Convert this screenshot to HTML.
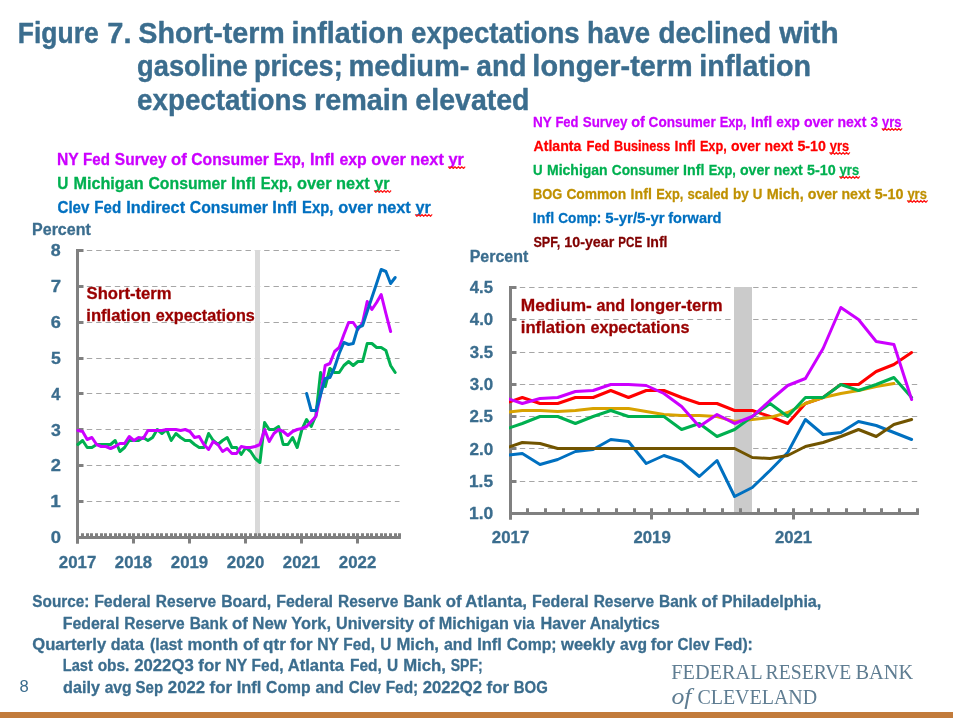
<!DOCTYPE html>
<html lang="en">
<head>
<meta charset="utf-8">
<title>Figure 7. Short-term inflation expectations</title>
<style>
html,body{margin:0;padding:0;background:#fff;}
body{width:953px;height:718px;overflow:hidden;}
svg{display:block;}
</style>
</head>
<body>
<svg width="953" height="718" viewBox="0 0 953 718">
<rect width="953" height="718" fill="#ffffff"/>
<g id="title">
<text y="42.6" font-family="'Liberation Sans', sans-serif" font-size="28.6" font-weight="bold" fill="#3b6d8e" stroke="#3b6d8e" stroke-width="0.4" stroke-linejoin="round"><tspan x="17.81" textLength="80.87" lengthAdjust="spacingAndGlyphs">Figure</tspan> <tspan x="107.26" textLength="24.24" lengthAdjust="spacingAndGlyphs">7.</tspan> <tspan x="138.34" textLength="146.52" lengthAdjust="spacingAndGlyphs">Short-term</tspan> <tspan x="291.58" textLength="111.97" lengthAdjust="spacingAndGlyphs">inflation</tspan> <tspan x="411.10" textLength="168.53" lengthAdjust="spacingAndGlyphs">expectations</tspan> <tspan x="587.07" textLength="62.98" lengthAdjust="spacingAndGlyphs">have</tspan> <tspan x="658.39" textLength="112.97" lengthAdjust="spacingAndGlyphs">declined</tspan> <tspan x="779.17" textLength="59.57" lengthAdjust="spacingAndGlyphs">with</tspan></text>
<text y="76.1" font-family="'Liberation Sans', sans-serif" font-size="28.6" font-weight="bold" fill="#3b6d8e" stroke="#3b6d8e" stroke-width="0.4" stroke-linejoin="round"><tspan x="137.11" textLength="110.63" lengthAdjust="spacingAndGlyphs">gasoline</tspan> <tspan x="254.04" textLength="88.61" lengthAdjust="spacingAndGlyphs">prices;</tspan> <tspan x="348.41" textLength="121.04" lengthAdjust="spacingAndGlyphs">medium-</tspan> <tspan x="476.35" textLength="50.09" lengthAdjust="spacingAndGlyphs">and</tspan> <tspan x="532.38" textLength="160.29" lengthAdjust="spacingAndGlyphs">longer-term</tspan> <tspan x="699.39" textLength="111.66" lengthAdjust="spacingAndGlyphs">inflation</tspan></text>
<text y="109.5" font-family="'Liberation Sans', sans-serif" font-size="28.6" font-weight="bold" fill="#3b6d8e" stroke="#3b6d8e" stroke-width="0.4" stroke-linejoin="round"><tspan x="137.09" textLength="169.85" lengthAdjust="spacingAndGlyphs">expectations</tspan> <tspan x="313.93" textLength="94.46" lengthAdjust="spacingAndGlyphs">remain</tspan> <tspan x="415.36" textLength="114.20" lengthAdjust="spacingAndGlyphs">elevated</tspan></text>
</g>
<g id="legend-left">
<text y="164.7" font-family="'Liberation Sans', sans-serif" font-size="16.8" font-weight="bold" fill="#cc00ff" stroke="#cc00ff" stroke-width="0.3" stroke-linejoin="round"><tspan x="57.01" textLength="21.46" lengthAdjust="spacingAndGlyphs">NY</tspan> <tspan x="83.07" textLength="26.80" lengthAdjust="spacingAndGlyphs">Fed</tspan> <tspan x="114.86" textLength="51.68" lengthAdjust="spacingAndGlyphs">Survey</tspan> <tspan x="171.11" textLength="15.81" lengthAdjust="spacingAndGlyphs">of</tspan> <tspan x="191.17" textLength="77.84" lengthAdjust="spacingAndGlyphs">Consumer</tspan> <tspan x="273.68" textLength="31.29" lengthAdjust="spacingAndGlyphs">Exp,</tspan> <tspan x="310.05" textLength="24.58" lengthAdjust="spacingAndGlyphs">Infl</tspan> <tspan x="339.39" textLength="27.28" lengthAdjust="spacingAndGlyphs">exp</tspan> <tspan x="371.34" textLength="34.50" lengthAdjust="spacingAndGlyphs">over</tspan> <tspan x="410.32" textLength="33.53" lengthAdjust="spacingAndGlyphs">next</tspan> <tspan x="448.46" textLength="15.34" lengthAdjust="spacingAndGlyphs">yr</tspan></text>
<rect x="448.2" y="168.8" width="15.9" height="4" fill="#ffffff"/>
<path d="M448.2 166.6 L449.9 168.5 L451.6 166.6 L453.3 168.5 L455.0 166.6 L456.7 168.5 L458.4 166.6 L460.1 168.5 L461.8 166.6 L463.5 168.5 L465.2 166.6" fill="none" stroke="#ff1a1a" stroke-width="1.15" stroke-linejoin="round"/>
<text y="188.6" font-family="'Liberation Sans', sans-serif" font-size="16.8" font-weight="bold" fill="#00b050" stroke="#00b050" stroke-width="0.3" stroke-linejoin="round"><tspan x="57.13" textLength="11.11" lengthAdjust="spacingAndGlyphs">U</tspan> <tspan x="73.38" textLength="70.27" lengthAdjust="spacingAndGlyphs">Michigan</tspan> <tspan x="148.47" textLength="78.03" lengthAdjust="spacingAndGlyphs">Consumer</tspan> <tspan x="231.08" textLength="24.64" lengthAdjust="spacingAndGlyphs">Infl</tspan> <tspan x="260.76" textLength="31.37" lengthAdjust="spacingAndGlyphs">Exp,</tspan> <tspan x="297.02" textLength="34.58" lengthAdjust="spacingAndGlyphs">over</tspan> <tspan x="336.09" textLength="33.61" lengthAdjust="spacingAndGlyphs">next</tspan> <tspan x="374.32" textLength="15.38" lengthAdjust="spacingAndGlyphs">yr</tspan></text>
<rect x="374.1" y="192.7" width="15.9" height="4" fill="#ffffff"/>
<path d="M374.1 190.5 L375.8 192.4 L377.5 190.5 L379.2 192.4 L380.9 190.5 L382.6 192.4 L384.3 190.5 L386.0 192.4 L387.7 190.5 L389.4 192.4 L391.1 190.5" fill="none" stroke="#ff1a1a" stroke-width="1.15" stroke-linejoin="round"/>
<text y="212.5" font-family="'Liberation Sans', sans-serif" font-size="16.8" font-weight="bold" fill="#0070c0" stroke="#0070c0" stroke-width="0.3" stroke-linejoin="round"><tspan x="57.44" textLength="32.04" lengthAdjust="spacingAndGlyphs">Clev</tspan> <tspan x="94.37" textLength="26.83" lengthAdjust="spacingAndGlyphs">Fed</tspan> <tspan x="126.29" textLength="58.79" lengthAdjust="spacingAndGlyphs">Indirect</tspan> <tspan x="189.87" textLength="77.93" lengthAdjust="spacingAndGlyphs">Consumer</tspan> <tspan x="272.37" textLength="24.61" lengthAdjust="spacingAndGlyphs">Infl</tspan> <tspan x="302.02" textLength="31.33" lengthAdjust="spacingAndGlyphs">Exp,</tspan> <tspan x="338.23" textLength="34.54" lengthAdjust="spacingAndGlyphs">over</tspan> <tspan x="377.26" textLength="33.57" lengthAdjust="spacingAndGlyphs">next</tspan> <tspan x="415.44" textLength="15.36" lengthAdjust="spacingAndGlyphs">yr</tspan></text>
<rect x="415.2" y="216.6" width="15.9" height="4" fill="#ffffff"/>
<path d="M415.2 214.4 L416.9 216.3 L418.6 214.4 L420.3 216.3 L422.0 214.4 L423.7 216.3 L425.4 214.4 L427.1 216.3 L428.8 214.4 L430.5 216.3 L432.2 214.4" fill="none" stroke="#ff1a1a" stroke-width="1.15" stroke-linejoin="round"/>
</g>
<g id="legend-right">
<text y="126.7" font-family="'Liberation Sans', sans-serif" font-size="14.4" font-weight="bold" fill="#cc00ff" stroke="#cc00ff" stroke-width="0.26" stroke-linejoin="round"><tspan x="532.93" textLength="18.50" lengthAdjust="spacingAndGlyphs">NY</tspan> <tspan x="555.40" textLength="23.10" lengthAdjust="spacingAndGlyphs">Fed</tspan> <tspan x="582.80" textLength="44.55" lengthAdjust="spacingAndGlyphs">Survey</tspan> <tspan x="631.29" textLength="13.63" lengthAdjust="spacingAndGlyphs">of</tspan> <tspan x="648.58" textLength="67.10" lengthAdjust="spacingAndGlyphs">Consumer</tspan> <tspan x="719.70" textLength="26.97" lengthAdjust="spacingAndGlyphs">Exp,</tspan> <tspan x="751.05" textLength="21.18" lengthAdjust="spacingAndGlyphs">Infl</tspan> <tspan x="776.34" textLength="23.51" lengthAdjust="spacingAndGlyphs">exp</tspan> <tspan x="803.88" textLength="29.73" lengthAdjust="spacingAndGlyphs">over</tspan> <tspan x="837.48" textLength="28.90" lengthAdjust="spacingAndGlyphs">next</tspan> <tspan x="870.55" textLength="7.51" lengthAdjust="spacingAndGlyphs">3</tspan> <tspan x="882.07" textLength="19.43" lengthAdjust="spacingAndGlyphs">yrs</tspan></text>
<rect x="881.8" y="130.6" width="19.7" height="4" fill="#ffffff"/>
<path d="M881.8 128.4 L883.5 130.3 L885.2 128.4 L886.9 130.3 L888.6 128.4 L890.3 130.3 L892.0 128.4 L893.7 130.3 L895.4 128.4 L897.1 130.3 L898.8 128.4 L900.5 130.3 L902.2 128.4" fill="none" stroke="#ff1a1a" stroke-width="1.15" stroke-linejoin="round"/>
<text y="150.7" font-family="'Liberation Sans', sans-serif" font-size="14.4" font-weight="bold" fill="#ff0000" stroke="#ff0000" stroke-width="0.26" stroke-linejoin="round"><tspan x="533.48" textLength="47.90" lengthAdjust="spacingAndGlyphs">Atlanta</tspan> <tspan x="586.58" textLength="22.99" lengthAdjust="spacingAndGlyphs">Fed</tspan> <tspan x="614.03" textLength="56.40" lengthAdjust="spacingAndGlyphs">Business</tspan> <tspan x="674.49" textLength="21.09" lengthAdjust="spacingAndGlyphs">Infl</tspan> <tspan x="699.89" textLength="26.85" lengthAdjust="spacingAndGlyphs">Exp,</tspan> <tspan x="730.93" textLength="29.60" lengthAdjust="spacingAndGlyphs">over</tspan> <tspan x="764.38" textLength="28.77" lengthAdjust="spacingAndGlyphs">next</tspan> <tspan x="797.42" textLength="28.46" lengthAdjust="spacingAndGlyphs">5-10</tspan> <tspan x="829.76" textLength="19.34" lengthAdjust="spacingAndGlyphs">yrs</tspan></text>
<rect x="829.5" y="154.6" width="19.6" height="4" fill="#ffffff"/>
<path d="M829.5 152.4 L831.2 154.3 L832.9 152.4 L834.6 154.3 L836.3 152.4 L838.0 154.3 L839.7 152.4 L841.4 154.3 L843.1 152.4 L844.8 154.3 L846.5 152.4 L848.2 154.3 L849.9 152.4" fill="none" stroke="#ff1a1a" stroke-width="1.15" stroke-linejoin="round"/>
<text y="174.7" font-family="'Liberation Sans', sans-serif" font-size="14.4" font-weight="bold" fill="#00b050" stroke="#00b050" stroke-width="0.26" stroke-linejoin="round"><tspan x="533.03" textLength="9.58" lengthAdjust="spacingAndGlyphs">U</tspan> <tspan x="547.06" textLength="60.62" lengthAdjust="spacingAndGlyphs">Michigan</tspan> <tspan x="611.84" textLength="67.32" lengthAdjust="spacingAndGlyphs">Consumer</tspan> <tspan x="683.11" textLength="21.25" lengthAdjust="spacingAndGlyphs">Infl</tspan> <tspan x="708.72" textLength="27.06" lengthAdjust="spacingAndGlyphs">Exp,</tspan> <tspan x="740.00" textLength="29.83" lengthAdjust="spacingAndGlyphs">over</tspan> <tspan x="773.71" textLength="29.00" lengthAdjust="spacingAndGlyphs">next</tspan> <tspan x="807.01" textLength="28.69" lengthAdjust="spacingAndGlyphs">5-10</tspan> <tspan x="839.61" textLength="19.50" lengthAdjust="spacingAndGlyphs">yrs</tspan></text>
<rect x="839.4" y="178.6" width="19.7" height="4" fill="#ffffff"/>
<path d="M839.4 176.4 L841.1 178.3 L842.8 176.4 L844.5 178.3 L846.2 176.4 L847.9 178.3 L849.6 176.4 L851.3 178.3 L853.0 176.4 L854.7 178.3 L856.4 176.4 L858.1 178.3 L859.8 176.4" fill="none" stroke="#ff1a1a" stroke-width="1.15" stroke-linejoin="round"/>
<text y="198.7" font-family="'Liberation Sans', sans-serif" font-size="14.4" font-weight="bold" fill="#bf9000" stroke="#bf9000" stroke-width="0.26" stroke-linejoin="round"><tspan x="532.96" textLength="29.30" lengthAdjust="spacingAndGlyphs">BOG</tspan> <tspan x="566.39" textLength="59.87" lengthAdjust="spacingAndGlyphs">Common</tspan> <tspan x="630.60" textLength="21.26" lengthAdjust="spacingAndGlyphs">Infl</tspan> <tspan x="656.22" textLength="27.07" lengthAdjust="spacingAndGlyphs">Exp,</tspan> <tspan x="687.46" textLength="41.11" lengthAdjust="spacingAndGlyphs">scaled</tspan> <tspan x="732.95" textLength="15.72" lengthAdjust="spacingAndGlyphs">by</tspan> <tspan x="752.87" textLength="9.59" lengthAdjust="spacingAndGlyphs">U</tspan> <tspan x="766.87" textLength="36.78" lengthAdjust="spacingAndGlyphs">Mich,</tspan> <tspan x="807.75" textLength="29.85" lengthAdjust="spacingAndGlyphs">over</tspan> <tspan x="841.48" textLength="29.01" lengthAdjust="spacingAndGlyphs">next</tspan> <tspan x="874.79" textLength="28.70" lengthAdjust="spacingAndGlyphs">5-10</tspan> <tspan x="907.40" textLength="19.51" lengthAdjust="spacingAndGlyphs">yrs</tspan></text>
<rect x="907.2" y="202.6" width="19.7" height="4" fill="#ffffff"/>
<path d="M907.2 200.4 L908.9 202.3 L910.6 200.4 L912.3 202.3 L914.0 200.4 L915.7 202.3 L917.4 200.4 L919.1 202.3 L920.8 200.4 L922.5 202.3 L924.2 200.4 L925.9 202.3 L927.6 200.4" fill="none" stroke="#ff1a1a" stroke-width="1.15" stroke-linejoin="round"/>
<text y="222.7" font-family="'Liberation Sans', sans-serif" font-size="14.4" font-weight="bold" fill="#0070c0" stroke="#0070c0" stroke-width="0.26" stroke-linejoin="round"><tspan x="532.87" textLength="21.29" lengthAdjust="spacingAndGlyphs">Infl</tspan> <tspan x="558.29" textLength="43.07" lengthAdjust="spacingAndGlyphs">Comp:</tspan> <tspan x="605.33" textLength="59.32" lengthAdjust="spacingAndGlyphs">5-yr/5-yr</tspan> <tspan x="668.23" textLength="53.28" lengthAdjust="spacingAndGlyphs">forward</tspan></text>
<text y="246.7" font-family="'Liberation Sans', sans-serif" font-size="14.4" font-weight="bold" fill="#800000" stroke="#800000" stroke-width="0.26" stroke-linejoin="round"><tspan x="533.45" textLength="26.70" lengthAdjust="spacingAndGlyphs">SPF,</tspan> <tspan x="564.34" textLength="49.94" lengthAdjust="spacingAndGlyphs">10-year</tspan> <tspan x="618.36" textLength="23.79" lengthAdjust="spacingAndGlyphs">PCE</tspan> <tspan x="646.45" textLength="21.10" lengthAdjust="spacingAndGlyphs">Infl</tspan></text>
</g>
<g id="chart-left">
<path d="M77.5 501.5H399.5M77.5 465.5H399.5M77.5 429.5H399.5M77.5 393.5H399.5M77.5 358.5H399.5M77.5 322.5H399.5M77.5 286.5H399.5M77.5 250.5H399.5" stroke="#a6a6a6" stroke-width="1" stroke-dasharray="5.4 3.933" fill="none"/>
<rect x="255.0" y="250.0" width="5.0" height="286.0" fill="#d9d9d9"/>
<path d="M77.5 501.5h6.0M77.5 465.5h6.0M77.5 429.5h6.0M77.5 393.5h6.0M77.5 358.5h6.0M77.5 322.5h6.0M77.5 286.5h6.0M77.5 250.5h6.0" stroke="#808080" stroke-width="3" fill="none"/>
<path d="M82.5 537.5v-4.3M87.5 537.5v-4.3M91.5 537.5v-4.3M96.5 537.5v-4.3M101.5 537.5v-4.3M105.5 537.5v-4.3M110.5 537.5v-4.3M115.5 537.5v-4.3M119.5 537.5v-4.3M124.5 537.5v-4.3M129.5 537.5v-4.3M133.5 537.5v-4.3M138.5 537.5v-4.3M143.5 537.5v-4.3M147.5 537.5v-4.3M152.5 537.5v-4.3M157.5 537.5v-4.3M161.5 537.5v-4.3M166.5 537.5v-4.3M171.5 537.5v-4.3M175.5 537.5v-4.3M180.5 537.5v-4.3M185.5 537.5v-4.3M189.5 537.5v-4.3M194.5 537.5v-4.3M199.5 537.5v-4.3M203.5 537.5v-4.3M208.5 537.5v-4.3M213.5 537.5v-4.3M217.5 537.5v-4.3M222.5 537.5v-4.3M227.5 537.5v-4.3M231.5 537.5v-4.3M236.5 537.5v-4.3M241.5 537.5v-4.3M245.5 537.5v-4.3M250.5 537.5v-4.3M255.5 537.5v-4.3M259.5 537.5v-4.3M264.5 537.5v-4.3M269.5 537.5v-4.3M273.5 537.5v-4.3M278.5 537.5v-4.3M283.5 537.5v-4.3M287.5 537.5v-4.3M292.5 537.5v-4.3M297.5 537.5v-4.3M301.5 537.5v-4.3M306.5 537.5v-4.3M311.5 537.5v-4.3M315.5 537.5v-4.3M320.5 537.5v-4.3M325.5 537.5v-4.3M329.5 537.5v-4.3M334.5 537.5v-4.3M339.5 537.5v-4.3M343.5 537.5v-4.3M348.5 537.5v-4.3M353.5 537.5v-4.3M357.5 537.5v-4.3M362.5 537.5v-4.3M367.5 537.5v-4.3M371.5 537.5v-4.3M376.5 537.5v-4.3M381.5 537.5v-4.3M385.5 537.5v-4.3M390.5 537.5v-4.3M395.5 537.5v-4.3M399.5 537.5v-4.3" stroke="#808080" stroke-width="3" fill="none"/>
<path d="M77.5 249.0V543.5M76.0 537.5H400.9" stroke="#808080" stroke-width="3" fill="none"/>
<path d="M77.5 537.5v6M133.5 537.5v6M189.5 537.5v6M245.5 537.5v6M301.5 537.5v6M357.5 537.5v6" stroke="#808080" stroke-width="3" fill="none"/>
<text y="543.1" font-family="'Liberation Sans', sans-serif" font-size="17.0" font-weight="bold" fill="#3b6d8e" stroke="#3b6d8e" stroke-width="0.31" stroke-linejoin="round"><tspan x="50.71" textLength="10.29" lengthAdjust="spacingAndGlyphs">0</tspan></text>
<text y="507.2" font-family="'Liberation Sans', sans-serif" font-size="17.0" font-weight="bold" fill="#3b6d8e" stroke="#3b6d8e" stroke-width="0.31" stroke-linejoin="round"><tspan x="50.27" textLength="10.51" lengthAdjust="spacingAndGlyphs">1</tspan></text>
<text y="471.4" font-family="'Liberation Sans', sans-serif" font-size="17.0" font-weight="bold" fill="#3b6d8e" stroke="#3b6d8e" stroke-width="0.31" stroke-linejoin="round"><tspan x="50.81" textLength="10.18" lengthAdjust="spacingAndGlyphs">2</tspan></text>
<text y="435.5" font-family="'Liberation Sans', sans-serif" font-size="17.0" font-weight="bold" fill="#3b6d8e" stroke="#3b6d8e" stroke-width="0.31" stroke-linejoin="round"><tspan x="51.06" textLength="9.83" lengthAdjust="spacingAndGlyphs">3</tspan></text>
<text y="399.6" font-family="'Liberation Sans', sans-serif" font-size="17.0" font-weight="bold" fill="#3b6d8e" stroke="#3b6d8e" stroke-width="0.31" stroke-linejoin="round"><tspan x="51.21" textLength="9.14" lengthAdjust="spacingAndGlyphs">4</tspan></text>
<text y="363.7" font-family="'Liberation Sans', sans-serif" font-size="17.0" font-weight="bold" fill="#3b6d8e" stroke="#3b6d8e" stroke-width="0.31" stroke-linejoin="round"><tspan x="50.92" textLength="9.83" lengthAdjust="spacingAndGlyphs">5</tspan></text>
<text y="327.9" font-family="'Liberation Sans', sans-serif" font-size="17.0" font-weight="bold" fill="#3b6d8e" stroke="#3b6d8e" stroke-width="0.31" stroke-linejoin="round"><tspan x="50.77" textLength="10.13" lengthAdjust="spacingAndGlyphs">6</tspan></text>
<text y="292.0" font-family="'Liberation Sans', sans-serif" font-size="17.0" font-weight="bold" fill="#3b6d8e" stroke="#3b6d8e" stroke-width="0.31" stroke-linejoin="round"><tspan x="50.66" textLength="10.40" lengthAdjust="spacingAndGlyphs">7</tspan></text>
<text y="256.1" font-family="'Liberation Sans', sans-serif" font-size="17.0" font-weight="bold" fill="#3b6d8e" stroke="#3b6d8e" stroke-width="0.31" stroke-linejoin="round"><tspan x="50.87" textLength="9.93" lengthAdjust="spacingAndGlyphs">8</tspan></text>
<text y="568.0" font-family="'Liberation Sans', sans-serif" font-size="17.0" font-weight="bold" fill="#3b6d8e" stroke="#3b6d8e" stroke-width="0.31" stroke-linejoin="round"><tspan x="58.87" textLength="37.43" lengthAdjust="spacingAndGlyphs">2017</tspan></text>
<text y="568.0" font-family="'Liberation Sans', sans-serif" font-size="17.0" font-weight="bold" fill="#3b6d8e" stroke="#3b6d8e" stroke-width="0.31" stroke-linejoin="round"><tspan x="114.87" textLength="37.21" lengthAdjust="spacingAndGlyphs">2018</tspan></text>
<text y="568.0" font-family="'Liberation Sans', sans-serif" font-size="17.0" font-weight="bold" fill="#3b6d8e" stroke="#3b6d8e" stroke-width="0.31" stroke-linejoin="round"><tspan x="170.87" textLength="37.30" lengthAdjust="spacingAndGlyphs">2019</tspan></text>
<text y="568.0" font-family="'Liberation Sans', sans-serif" font-size="17.0" font-weight="bold" fill="#3b6d8e" stroke="#3b6d8e" stroke-width="0.31" stroke-linejoin="round"><tspan x="226.87" textLength="37.39" lengthAdjust="spacingAndGlyphs">2020</tspan></text>
<text y="568.0" font-family="'Liberation Sans', sans-serif" font-size="17.0" font-weight="bold" fill="#3b6d8e" stroke="#3b6d8e" stroke-width="0.31" stroke-linejoin="round"><tspan x="282.87" textLength="37.17" lengthAdjust="spacingAndGlyphs">2021</tspan></text>
<text y="568.0" font-family="'Liberation Sans', sans-serif" font-size="17.0" font-weight="bold" fill="#3b6d8e" stroke="#3b6d8e" stroke-width="0.31" stroke-linejoin="round"><tspan x="338.87" textLength="37.39" lengthAdjust="spacingAndGlyphs">2022</tspan></text>
<clipPath id="chart-leftc"><rect x="76.0" y="240.5" width="334.0" height="307.0"/></clipPath>
<g clip-path="url(#chart-leftc)" fill="none" stroke-width="3.0" stroke-linejoin="round" stroke-linecap="round">
<polyline points="77.9,444.5 82.6,440.5 87.2,447.5 91.9,447.5 96.6,444.5 101.2,444.5 105.9,444.5 110.6,444.5 115.2,440.5 119.9,451.5 124.6,447.5 129.2,440.5 133.9,440.5 138.6,440.5 143.2,437.5 147.9,440.5 152.6,437.5 157.2,429.5 161.9,433.5 166.6,429.5 171.2,440.5 175.9,433.5 180.6,437.5 185.2,440.5 189.9,440.5 194.6,444.5 199.2,447.5 203.9,447.5 208.6,433.5 213.2,440.5 217.9,444.5 222.6,440.5 227.2,437.5 231.9,447.5 236.6,447.5 241.2,454.5 245.9,447.5 250.6,451.5 255.2,458.5 259.9,462.5 264.6,422.5 269.2,429.5 273.9,429.5 278.6,426.5 283.2,444.5 287.9,444.5 292.6,437.5 297.2,447.5 301.9,429.5 306.6,419.5 311.2,426.5 315.9,415.5 320.6,372.5 325.2,386.5 329.9,368.5 334.6,372.5 339.2,372.5 343.9,365.5 348.6,361.5 353.2,365.5 357.9,361.5 362.6,361.5 367.2,343.5 371.9,343.5 376.6,347.5 381.2,347.5 385.9,350.5 390.6,365.5 395.2,372.5" stroke="#00b050"/>
<polyline points="77.9,430.5 82.6,431.5 87.2,439.5 91.9,437.5 96.6,444.5 101.2,446.5 105.9,446.5 110.6,448.5 115.2,446.5 119.9,443.5 124.6,443.5 129.2,436.5 133.9,440.5 138.6,437.5 143.2,438.5 147.9,430.5 152.6,430.5 157.2,430.5 161.9,430.5 166.6,429.5 171.2,429.5 175.9,429.5 180.6,430.5 185.2,429.5 189.9,431.5 194.6,437.5 199.2,436.5 203.9,444.5 208.6,449.5 213.2,441.5 217.9,444.5 222.6,451.5 227.2,448.5 231.9,453.5 236.6,453.5 241.2,446.5 245.9,447.5 250.6,447.5 255.2,446.5 259.9,444.5 264.6,429.5 269.2,441.5 273.9,433.5 278.6,429.5 283.2,431.5 287.9,435.5 292.6,431.5 297.2,429.5 301.9,428.5 306.6,426.5 311.2,421.5 315.9,416.5 320.6,394.5 325.2,365.5 329.9,363.5 334.6,351.5 339.2,347.5 343.9,334.5 348.6,322.5 353.2,322.5 357.9,329.5 362.6,322.5 367.2,301.5 371.9,309.5 376.6,302.5 381.2,294.5 385.9,313.5 390.6,331.5" stroke="#cc00ff"/>
<polyline points="306.6,393.5 311.2,410.5 315.9,410.5 320.6,394.5 325.2,378.5 329.9,377.5 334.6,367.5 339.2,353.5 343.9,342.5 348.6,344.5 353.2,343.5 357.9,327.5 362.6,325.5 367.2,311.5 371.9,297.5 376.6,283.5 381.2,269.5 385.9,271.5 390.6,283.5 395.2,277.5" stroke="#0070c0"/>
</g>
</g>
<g id="chart-right">
<path d="M510.5 481.5H917.5M510.5 448.5H917.5M510.5 416.5H917.5M510.5 384.5H917.5M510.5 352.5H917.5M510.5 319.5H917.5M510.5 287.5H917.5" stroke="#a6a6a6" stroke-width="1" stroke-dasharray="5.4 3.933" fill="none"/>
<rect x="734.0" y="287.0" width="18.0" height="225.0" fill="#cbcbcb"/>
<path d="M510.5 481.5h6.0M510.5 448.5h6.0M510.5 416.5h6.0M510.5 384.5h6.0M510.5 352.5h6.0M510.5 319.5h6.0M510.5 287.5h6.0" stroke="#808080" stroke-width="3" fill="none"/>
<path d="M527.5 513.5v-5.3M545.5 513.5v-5.3M563.5 513.5v-5.3M581.5 513.5v-5.3M598.5 513.5v-5.3M616.5 513.5v-5.3M634.5 513.5v-5.3M651.5 513.5v-5.3M669.5 513.5v-5.3M687.5 513.5v-5.3M704.5 513.5v-5.3M722.5 513.5v-5.3M740.5 513.5v-5.3M758.5 513.5v-5.3M775.5 513.5v-5.3M793.5 513.5v-5.3M811.5 513.5v-5.3M828.5 513.5v-5.3M846.5 513.5v-5.3M864.5 513.5v-5.3M881.5 513.5v-5.3M899.5 513.5v-5.3M917.5 513.5v-5.3" stroke="#808080" stroke-width="3" fill="none"/>
<path d="M510.5 286.0V519.5M509.0 513.5H918.9" stroke="#808080" stroke-width="3" fill="none"/>
<path d="M510.5 513.5v6M651.5 513.5v6M793.5 513.5v6" stroke="#808080" stroke-width="3" fill="none"/>
<text y="519.1" font-family="'Liberation Sans', sans-serif" font-size="17.0" font-weight="bold" fill="#3b6d8e" stroke="#3b6d8e" stroke-width="0.31" stroke-linejoin="round"><tspan x="468.96" textLength="24.28" lengthAdjust="spacingAndGlyphs">1.0</tspan></text>
<text y="486.8" font-family="'Liberation Sans', sans-serif" font-size="17.0" font-weight="bold" fill="#3b6d8e" stroke="#3b6d8e" stroke-width="0.31" stroke-linejoin="round"><tspan x="468.97" textLength="24.05" lengthAdjust="spacingAndGlyphs">1.5</tspan></text>
<text y="454.5" font-family="'Liberation Sans', sans-serif" font-size="17.0" font-weight="bold" fill="#3b6d8e" stroke="#3b6d8e" stroke-width="0.31" stroke-linejoin="round"><tspan x="469.46" textLength="23.78" lengthAdjust="spacingAndGlyphs">2.0</tspan></text>
<text y="422.2" font-family="'Liberation Sans', sans-serif" font-size="17.0" font-weight="bold" fill="#3b6d8e" stroke="#3b6d8e" stroke-width="0.31" stroke-linejoin="round"><tspan x="469.46" textLength="23.55" lengthAdjust="spacingAndGlyphs">2.5</tspan></text>
<text y="390.0" font-family="'Liberation Sans', sans-serif" font-size="17.0" font-weight="bold" fill="#3b6d8e" stroke="#3b6d8e" stroke-width="0.31" stroke-linejoin="round"><tspan x="469.67" textLength="23.55" lengthAdjust="spacingAndGlyphs">3.0</tspan></text>
<text y="357.7" font-family="'Liberation Sans', sans-serif" font-size="17.0" font-weight="bold" fill="#3b6d8e" stroke="#3b6d8e" stroke-width="0.31" stroke-linejoin="round"><tspan x="469.68" textLength="23.33" lengthAdjust="spacingAndGlyphs">3.5</tspan></text>
<text y="325.4" font-family="'Liberation Sans', sans-serif" font-size="17.0" font-weight="bold" fill="#3b6d8e" stroke="#3b6d8e" stroke-width="0.31" stroke-linejoin="round"><tspan x="469.80" textLength="23.42" lengthAdjust="spacingAndGlyphs">4.0</tspan></text>
<text y="293.1" font-family="'Liberation Sans', sans-serif" font-size="17.0" font-weight="bold" fill="#3b6d8e" stroke="#3b6d8e" stroke-width="0.31" stroke-linejoin="round"><tspan x="469.80" textLength="23.20" lengthAdjust="spacingAndGlyphs">4.5</tspan></text>
<text y="542.8" font-family="'Liberation Sans', sans-serif" font-size="17.0" font-weight="bold" fill="#3b6d8e" stroke="#3b6d8e" stroke-width="0.31" stroke-linejoin="round"><tspan x="491.87" textLength="37.43" lengthAdjust="spacingAndGlyphs">2017</tspan></text>
<text y="542.8" font-family="'Liberation Sans', sans-serif" font-size="17.0" font-weight="bold" fill="#3b6d8e" stroke="#3b6d8e" stroke-width="0.31" stroke-linejoin="round"><tspan x="633.43" textLength="37.30" lengthAdjust="spacingAndGlyphs">2019</tspan></text>
<text y="542.8" font-family="'Liberation Sans', sans-serif" font-size="17.0" font-weight="bold" fill="#3b6d8e" stroke="#3b6d8e" stroke-width="0.31" stroke-linejoin="round"><tspan x="775.00" textLength="37.17" lengthAdjust="spacingAndGlyphs">2021</tspan></text>
<clipPath id="chart-rightc"><rect x="509.0" y="277.5" width="419.0" height="246.0"/></clipPath>
<g clip-path="url(#chart-rightc)" fill="none" stroke-width="3.0" stroke-linejoin="round" stroke-linecap="round">
<polyline points="504.6,455.5 522.3,453.5 540.0,464.5 557.7,459.5 575.4,451.5 593.1,449.5 610.8,439.5 628.5,441.5 646.2,463.5 663.9,455.5 681.6,461.5 699.3,476.5 717.0,460.5 734.6,496.5 752.3,487.5 770.0,470.5 787.7,452.5 805.4,419.5 823.1,434.5 840.8,432.5 858.5,421.5 876.2,425.5 893.9,432.5 911.6,439.5" stroke="#0070c0"/>
<polyline points="504.6,448.5 522.3,442.5 540.0,443.5 557.7,448.5 575.4,448.5 593.1,448.5 610.8,448.5 628.5,448.5 646.2,448.5 663.9,448.5 681.6,448.5 699.3,448.5 717.0,448.5 734.6,448.5 752.3,457.5 770.0,458.5 787.7,455.5 805.4,446.5 823.1,442.5 840.8,436.5 858.5,429.5 876.2,436.5 893.9,424.5 911.6,419.5" stroke="#715400"/>
<polyline points="504.6,403.5 522.3,397.5 540.0,403.5 557.7,403.5 575.4,397.5 593.1,397.5 610.8,390.5 628.5,397.5 646.2,390.5 663.9,390.5 681.6,397.5 699.3,403.5 717.0,403.5 734.6,410.5 752.3,410.5 770.0,416.5 787.7,423.5 805.4,403.5 823.1,397.5 840.8,384.5 858.5,384.5 876.2,371.5 893.9,364.5 911.6,352.5" stroke="#ff0000"/>
<polyline points="504.6,412.5 522.3,410.5 540.0,410.5 557.7,411.5 575.4,410.5 593.1,408.5 610.8,408.5 628.5,408.5 646.2,411.5 663.9,414.5 681.6,415.5 699.3,415.5 717.0,416.5 734.6,421.5 752.3,419.5 770.0,417.5 787.7,412.5 805.4,403.5 823.1,397.5 840.8,393.5 858.5,390.5 876.2,386.5 893.9,383.5" stroke="#d8a200"/>
<polyline points="504.6,429.5 522.3,423.5 540.0,416.5 557.7,416.5 575.4,423.5 593.1,416.5 610.8,410.5 628.5,416.5 646.2,416.5 663.9,416.5 681.6,429.5 699.3,423.5 717.0,436.5 734.6,429.5 752.3,416.5 770.0,403.5 787.7,416.5 805.4,397.5 823.1,397.5 840.8,384.5 858.5,390.5 876.2,384.5 893.9,377.5 911.6,397.5" stroke="#00b050"/>
<polyline points="504.6,397.5 522.3,403.5 540.0,398.5 557.7,397.5 575.4,391.5 593.1,390.5 610.8,384.5 628.5,384.5 646.2,385.5 663.9,393.5 681.6,406.5 699.3,426.5 717.0,414.5 734.6,423.5 752.3,416.5 770.0,400.5 787.7,385.5 805.4,378.5 823.1,348.5 840.8,307.5 858.5,319.5 876.2,341.5 893.9,344.5 911.6,399.5" stroke="#cc00ff"/>
</g>
</g>
<g id="axis-titles">
<text y="234.7" font-family="'Liberation Sans', sans-serif" font-size="16.8" font-weight="bold" fill="#3b6d8e" stroke="#3b6d8e" stroke-width="0.3" stroke-linejoin="round"><tspan x="32.07" textLength="58.70" lengthAdjust="spacingAndGlyphs">Percent</tspan></text>
<text y="262.3" font-family="'Liberation Sans', sans-serif" font-size="16.8" font-weight="bold" fill="#3b6d8e" stroke="#3b6d8e" stroke-width="0.3" stroke-linejoin="round"><tspan x="469.67" textLength="58.59" lengthAdjust="spacingAndGlyphs">Percent</tspan></text>
</g>
<g id="annotations">
<text y="298.5" font-family="'Liberation Sans', sans-serif" font-size="16.8" font-weight="bold" fill="#990000" stroke="#990000" stroke-width="0.3" stroke-linejoin="round"><tspan x="86.55" textLength="85.12" lengthAdjust="spacingAndGlyphs">Short-term</tspan></text>
<text y="321.1" font-family="'Liberation Sans', sans-serif" font-size="16.8" font-weight="bold" fill="#990000" stroke="#990000" stroke-width="0.3" stroke-linejoin="round"><tspan x="86.28" textLength="64.78" lengthAdjust="spacingAndGlyphs">inflation</tspan> <tspan x="155.87" textLength="98.95" lengthAdjust="spacingAndGlyphs">expectations</tspan></text>
<text y="310.6" font-family="'Liberation Sans', sans-serif" font-size="16.8" font-weight="bold" fill="#990000" stroke="#990000" stroke-width="0.3" stroke-linejoin="round"><tspan x="520.78" textLength="71.12" lengthAdjust="spacingAndGlyphs">Medium-</tspan> <tspan x="596.55" textLength="28.55" lengthAdjust="spacingAndGlyphs">and</tspan> <tspan x="630.05" textLength="92.62" lengthAdjust="spacingAndGlyphs">longer-term</tspan></text>
<text y="332.5" font-family="'Liberation Sans', sans-serif" font-size="16.8" font-weight="bold" fill="#990000" stroke="#990000" stroke-width="0.3" stroke-linejoin="round"><tspan x="520.78" textLength="64.82" lengthAdjust="spacingAndGlyphs">inflation</tspan> <tspan x="590.41" textLength="99.01" lengthAdjust="spacingAndGlyphs">expectations</tspan></text>
</g>
<g id="footer">
<text y="606.6" font-family="'Liberation Sans', sans-serif" font-size="16.8" font-weight="bold" fill="#3b6d8e" stroke="#3b6d8e" stroke-width="0.3" stroke-linejoin="round"><tspan x="32.29" textLength="57.20" lengthAdjust="spacingAndGlyphs">Source:</tspan> <tspan x="94.13" textLength="56.66" lengthAdjust="spacingAndGlyphs">Federal</tspan> <tspan x="155.82" textLength="60.36" lengthAdjust="spacingAndGlyphs">Reserve</tspan> <tspan x="221.20" textLength="50.03" lengthAdjust="spacingAndGlyphs">Board,</tspan> <tspan x="276.28" textLength="56.66" lengthAdjust="spacingAndGlyphs">Federal</tspan> <tspan x="337.97" textLength="60.36" lengthAdjust="spacingAndGlyphs">Reserve</tspan> <tspan x="403.38" textLength="37.76" lengthAdjust="spacingAndGlyphs">Bank</tspan> <tspan x="445.74" textLength="15.83" lengthAdjust="spacingAndGlyphs">of</tspan> <tspan x="465.29" textLength="61.72" lengthAdjust="spacingAndGlyphs">Atlanta,</tspan> <tspan x="531.99" textLength="56.66" lengthAdjust="spacingAndGlyphs">Federal</tspan> <tspan x="593.67" textLength="60.36" lengthAdjust="spacingAndGlyphs">Reserve</tspan> <tspan x="659.08" textLength="37.76" lengthAdjust="spacingAndGlyphs">Bank</tspan> <tspan x="701.44" textLength="15.83" lengthAdjust="spacingAndGlyphs">of</tspan> <tspan x="721.71" textLength="99.64" lengthAdjust="spacingAndGlyphs">Philadelphia,</tspan></text>
<text y="628.7" font-family="'Liberation Sans', sans-serif" font-size="16.8" font-weight="bold" fill="#3b6d8e" stroke="#3b6d8e" stroke-width="0.3" stroke-linejoin="round"><tspan x="62.68" textLength="56.64" lengthAdjust="spacingAndGlyphs">Federal</tspan> <tspan x="124.34" textLength="60.34" lengthAdjust="spacingAndGlyphs">Reserve</tspan> <tspan x="189.73" textLength="37.75" lengthAdjust="spacingAndGlyphs">Bank</tspan> <tspan x="232.08" textLength="15.82" lengthAdjust="spacingAndGlyphs">of</tspan> <tspan x="252.29" textLength="34.61" lengthAdjust="spacingAndGlyphs">New</tspan> <tspan x="291.32" textLength="39.68" lengthAdjust="spacingAndGlyphs">York,</tspan> <tspan x="336.03" textLength="77.88" lengthAdjust="spacingAndGlyphs">University</tspan> <tspan x="418.47" textLength="15.82" lengthAdjust="spacingAndGlyphs">of</tspan> <tspan x="438.73" textLength="70.15" lengthAdjust="spacingAndGlyphs">Michigan</tspan> <tspan x="513.61" textLength="20.96" lengthAdjust="spacingAndGlyphs">via</tspan> <tspan x="540.58" textLength="45.20" lengthAdjust="spacingAndGlyphs">Haver</tspan> <tspan x="589.64" textLength="70.06" lengthAdjust="spacingAndGlyphs">Analytics</tspan></text>
<text y="650.3" font-family="'Liberation Sans', sans-serif" font-size="16.8" font-weight="bold" fill="#3b6d8e" stroke="#3b6d8e" stroke-width="0.3" stroke-linejoin="round"><tspan x="32.29" textLength="73.89" lengthAdjust="spacingAndGlyphs">Quarterly</tspan> <tspan x="110.76" textLength="33.16" lengthAdjust="spacingAndGlyphs">data</tspan> <tspan x="149.96" textLength="32.63" lengthAdjust="spacingAndGlyphs">(last</tspan> <tspan x="187.45" textLength="50.76" lengthAdjust="spacingAndGlyphs">month</tspan> <tspan x="243.00" textLength="15.85" lengthAdjust="spacingAndGlyphs">of</tspan> <tspan x="263.05" textLength="22.88" lengthAdjust="spacingAndGlyphs">qtr</tspan> <tspan x="290.10" textLength="22.49" lengthAdjust="spacingAndGlyphs">for</tspan> <tspan x="317.21" textLength="21.51" lengthAdjust="spacingAndGlyphs">NY</tspan> <tspan x="343.32" textLength="31.74" lengthAdjust="spacingAndGlyphs">Fed,</tspan> <tspan x="380.18" textLength="11.11" lengthAdjust="spacingAndGlyphs">U</tspan> <tspan x="396.40" textLength="42.61" lengthAdjust="spacingAndGlyphs">Mich,</tspan> <tspan x="443.94" textLength="28.30" lengthAdjust="spacingAndGlyphs">and</tspan> <tspan x="477.29" textLength="24.63" lengthAdjust="spacingAndGlyphs">Infl</tspan> <tspan x="506.69" textLength="49.83" lengthAdjust="spacingAndGlyphs">Comp;</tspan> <tspan x="561.03" textLength="54.29" lengthAdjust="spacingAndGlyphs">weekly</tspan> <tspan x="620.10" textLength="26.85" lengthAdjust="spacingAndGlyphs">avg</tspan> <tspan x="650.68" textLength="22.49" lengthAdjust="spacingAndGlyphs">for</tspan> <tspan x="677.59" textLength="32.07" lengthAdjust="spacingAndGlyphs">Clev</tspan> <tspan x="714.51" textLength="38.35" lengthAdjust="spacingAndGlyphs">Fed):</tspan></text>
<text y="671.1" font-family="'Liberation Sans', sans-serif" font-size="16.8" font-weight="bold" fill="#3b6d8e" stroke="#3b6d8e" stroke-width="0.3" stroke-linejoin="round"><tspan x="62.76" textLength="30.09" lengthAdjust="spacingAndGlyphs">Last</tspan> <tspan x="97.66" textLength="31.75" lengthAdjust="spacingAndGlyphs">obs.</tspan> <tspan x="134.23" textLength="59.48" lengthAdjust="spacingAndGlyphs">2022Q3</tspan> <tspan x="198.25" textLength="22.55" lengthAdjust="spacingAndGlyphs">for</tspan> <tspan x="225.44" textLength="21.57" lengthAdjust="spacingAndGlyphs">NY</tspan> <tspan x="251.61" textLength="31.82" lengthAdjust="spacingAndGlyphs">Fed,</tspan> <tspan x="287.77" textLength="56.10" lengthAdjust="spacingAndGlyphs">Atlanta</tspan> <tspan x="349.94" textLength="31.82" lengthAdjust="spacingAndGlyphs">Fed,</tspan> <tspan x="386.90" textLength="11.14" lengthAdjust="spacingAndGlyphs">U</tspan> <tspan x="403.16" textLength="42.72" lengthAdjust="spacingAndGlyphs">Mich,</tspan> <tspan x="450.78" textLength="31.91" lengthAdjust="spacingAndGlyphs">SPF;</tspan></text>
<text y="692.8" font-family="'Liberation Sans', sans-serif" font-size="16.8" font-weight="bold" fill="#3b6d8e" stroke="#3b6d8e" stroke-width="0.3" stroke-linejoin="round"><tspan x="63.10" textLength="36.77" lengthAdjust="spacingAndGlyphs">daily</tspan> <tspan x="104.64" textLength="26.89" lengthAdjust="spacingAndGlyphs">avg</tspan> <tspan x="135.58" textLength="27.53" lengthAdjust="spacingAndGlyphs">Sep</tspan> <tspan x="167.80" textLength="37.33" lengthAdjust="spacingAndGlyphs">2022</tspan> <tspan x="209.57" textLength="22.52" lengthAdjust="spacingAndGlyphs">for</tspan> <tspan x="236.66" textLength="24.67" lengthAdjust="spacingAndGlyphs">Infl</tspan> <tspan x="266.11" textLength="44.45" lengthAdjust="spacingAndGlyphs">Comp</tspan> <tspan x="315.44" textLength="28.35" lengthAdjust="spacingAndGlyphs">and</tspan> <tspan x="348.69" textLength="32.12" lengthAdjust="spacingAndGlyphs">Clev</tspan> <tspan x="385.69" textLength="32.55" lengthAdjust="spacingAndGlyphs">Fed;</tspan> <tspan x="422.63" textLength="59.51" lengthAdjust="spacingAndGlyphs">2022Q2</tspan> <tspan x="486.59" textLength="22.52" lengthAdjust="spacingAndGlyphs">for</tspan> <tspan x="513.79" textLength="34.00" lengthAdjust="spacingAndGlyphs">BOG</tspan></text>
<text y="691.5" font-family="'Liberation Sans', sans-serif" font-size="16.4" font-weight="normal" fill="#3b6d8e"><tspan x="19.49" textLength="9.23" lengthAdjust="spacingAndGlyphs">8</tspan></text>
</g>
<g id="logo">
<text y="679.0" font-family="'Liberation Serif', serif" font-size="21.8" font-weight="normal" fill="#5f7d92"><tspan x="671.30" textLength="90.51" lengthAdjust="spacingAndGlyphs">FEDERAL</tspan> <tspan x="765.61" textLength="85.77" lengthAdjust="spacingAndGlyphs">RESERVE</tspan> <tspan x="855.39" textLength="57.79" lengthAdjust="spacingAndGlyphs">BANK</tspan></text>
<text y="704.4" font-family="'Liberation Serif', serif" font-size="22.8" font-weight="normal" fill="#5f7d92" font-style="italic"><tspan x="671.43" textLength="20.02" lengthAdjust="spacingAndGlyphs">of</tspan></text>
<text y="704.4" font-family="'Liberation Serif', serif" font-size="21.8" font-weight="normal" fill="#5f7d92"><tspan x="697.40" textLength="119.78" lengthAdjust="spacingAndGlyphs">CLEVELAND</tspan></text>
</g>
<rect x="0" y="712" width="953" height="6" fill="#c27b3b"/>
</svg>
</body>
</html>
